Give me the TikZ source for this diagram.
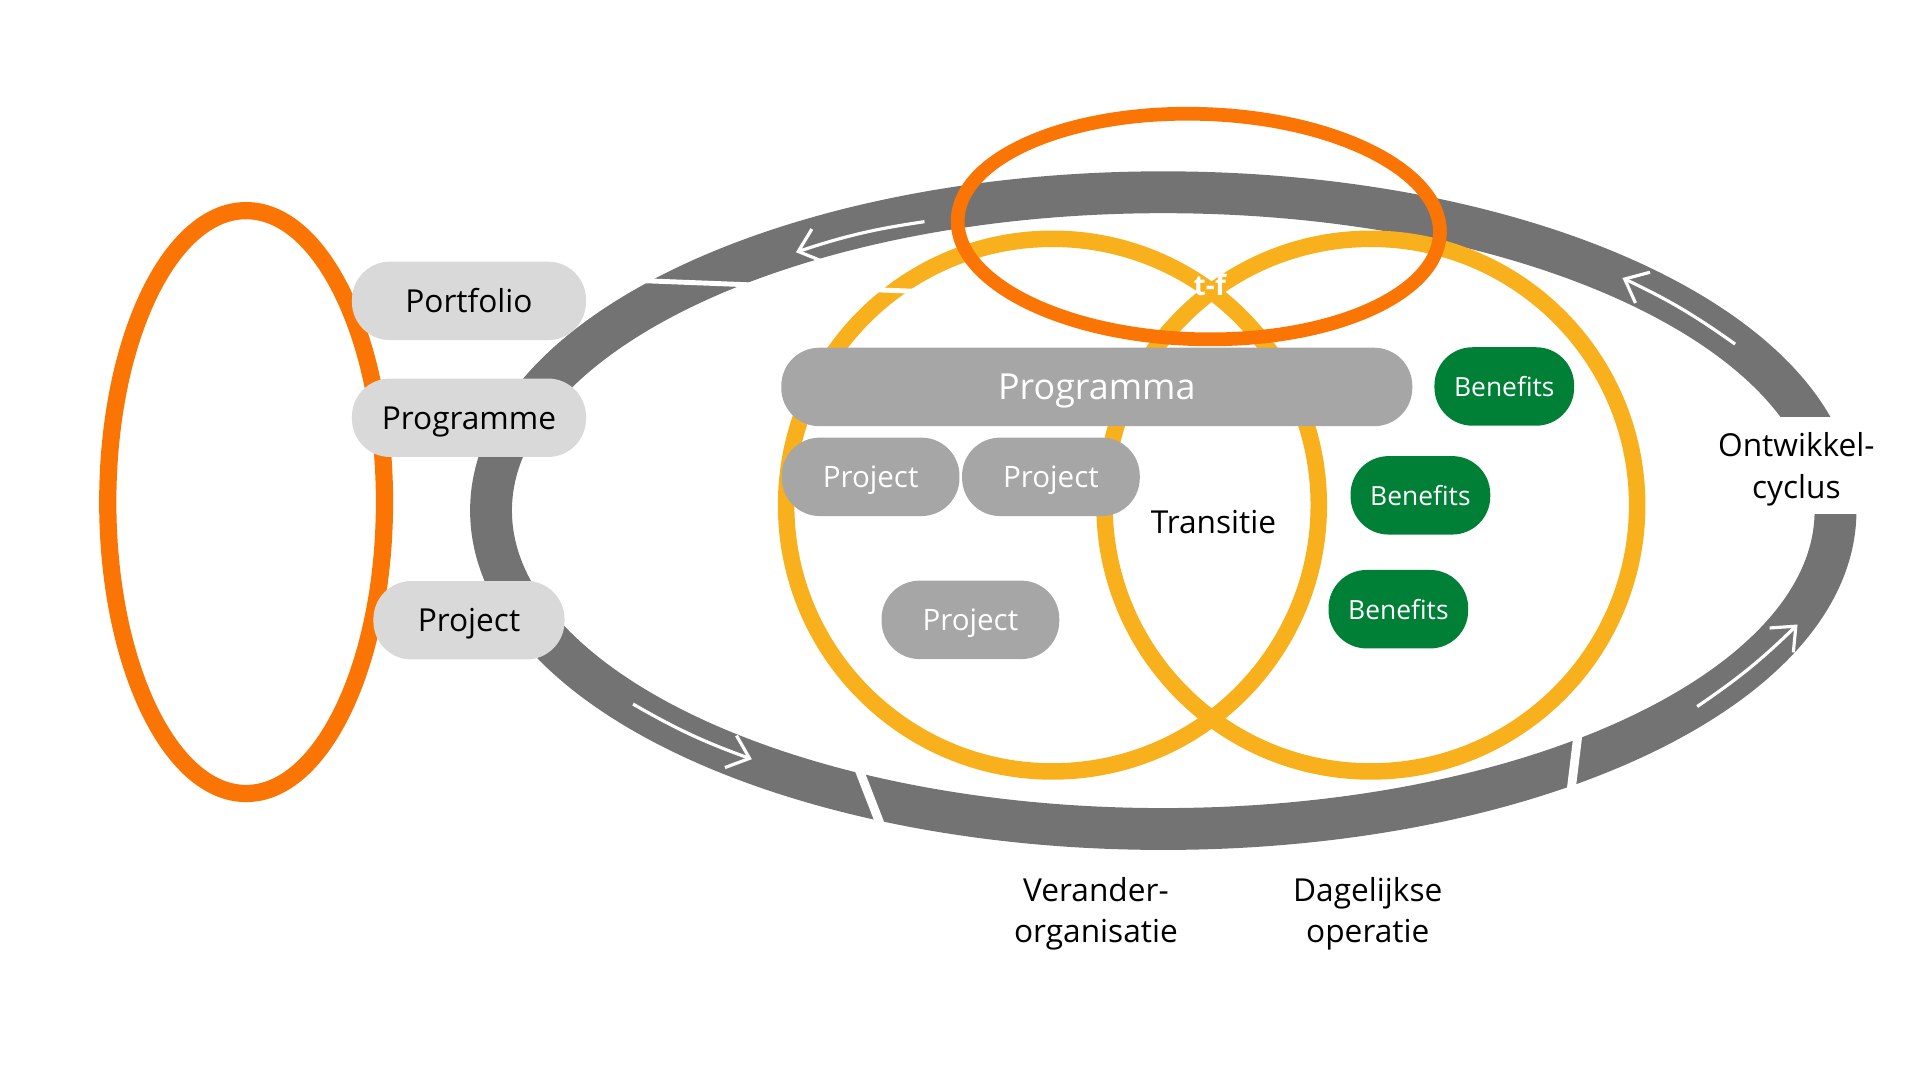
\documentclass[tikz,border=0pt]{standalone}
\usepackage{fontspec}
\setmainfont{Open Sans}
\usetikzlibrary{positioning}
\usetikzlibrary{arrows.meta}
\definecolor{oranje}{RGB}{251,117,5}
\definecolor{geel}{RGB}{248,177,29}
\definecolor{cyclusgrijs}{RGB}{115,115,115}
\definecolor{lichtgrijs}{RGB}{217,217,217}
\definecolor{middengrijs}{RGB}{166,166,166}
\definecolor{baatgroen}{RGB}{0,128,55}
\tikzstyle{pill} = [rounded corners=0.38cm,
minimum height=0.784cm,
inner sep=0pt,
text depth=0pt]
\tikzstyle{flow} = [draw,
-{Straight Barb[length=2mm,width=3.4mm]},
line width=0.9pt,
color=white]

\begin{document}
\begin{tikzpicture}[x=0.012245cm, y=-0.012245cm,
	niveau/.style={pill, fill=lichtgrijs, text=black, minimum width=2.339cm,
		font=\fontsize{9}{11}\selectfont},
	project/.style={pill, fill=middengrijs, text=white, minimum width=1.776cm,
		font=\fontsize{8.4}{10}\selectfont},
	benefit/.style={pill, fill=baatgroen, text=white, minimum width=1.396cm,
		font=\fontsize{7.5}{9}\selectfont},
	tekst/.style={align=center, text depth=0pt, font=\fontsize{9}{11.8}\selectfont}]
	\useasboundingbox (0,0) rectangle (1568,882);
	%% Rings
	\draw [oranje, line width=4.9pt] (201,410) ellipse [x radius=113, y radius=238];
	\draw [cyclusgrijs, line width=11.9pt] (950,417) ellipse [x radius=549, y radius=260];
	\draw [geel, line width=4.7pt] (859.5,412.5) circle [radius=217.5];
	\draw [geel, line width=4.7pt] (1119.5,412.5) circle [radius=217.5];
	%% Gaps
	\draw [white, line width=1.4pt] (520,229) -- (750,238);
	\draw [white, line width=2.5pt] (701,627) -- (720,676);
	\draw [white, line width=2.5pt] (1289,597) -- (1283,646);
	\draw [oranje, line width=3.9pt, rotate around={-1.6:(979,185)}] (979,185) ellipse [x radius=197, y radius=92];
	\node [white, font=\bfseries\fontsize{8}{9}\selectfont] (tf) at (988,233) {t-f};
	%% Cycle arrows
	\coordinate (boven1) at (755,181);
	\coordinate (boven2) at (650,206);
	\coordinate (links1) at (517,575);
	\coordinate (links2) at (614,620);
	\coordinate (onder1) at (1386,577);
	\coordinate (onder2) at (1468,510);
	\coordinate (rechts1) at (1417,281);
	\coordinate (rechts2) at (1325,227);
	\path [flow] (boven1) to [bend right=5] (boven2);
	\path [flow] (links1) to [bend right=5] (links2);
	\path [flow] (onder1) to [bend right=5] (onder2);
	\path [flow] (rechts1) to [bend right=5] (rechts2);
	%% Levels
	\node [niveau] (portfolio) at (383,245.7) {Portfolio};
	\node [niveau, below=0.37cm of portfolio] (programme) {Programme};
	\node [niveau, minimum width=1.91cm] (project) at (383,506.5) {Project};
	%% Programme and projects
	\node [pill, fill=middengrijs, text=white, minimum width=6.306cm,
		font=\fontsize{10.2}{12}\selectfont] (programma) at (895.7,316) {Programma};
	\node [project] (proja) at (711,389.4) {Project};
	\node [project, right=0.012cm of proja] (projb) {Project};
	\node [project] (projc) at (792.5,506.2) {Project};
	\node [benefit] (ben1) at (1228.5,315.6) {Benefits};
	\node [benefit] (ben2) at (1160,404.5) {Benefits};
	\node [benefit] (ben3) at (1142,497.5) {Benefits};
	%% Labels
	\node [tekst] (transitie) at (991,426) {Transitie};
	\node [tekst, fill=white, minimum height=0.967cm, inner xsep=2pt] (ontwikkel) at (1467,380) {Ontwikkel-\\cyclus};
	\node [tekst] (verander) at (895,743) {Verander-\\organisatie};
	\node [tekst] (dagelijks) at (1117,743) {Dagelijkse\\operatie};
\end{tikzpicture}
\end{document}
